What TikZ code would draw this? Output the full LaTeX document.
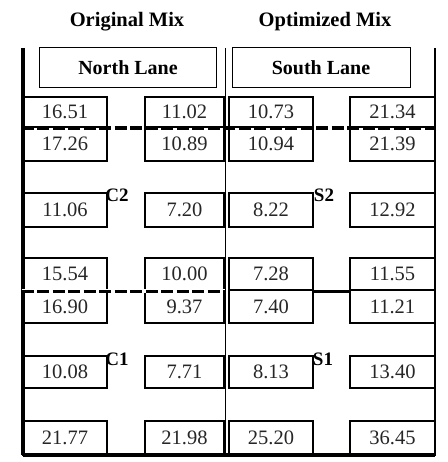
\documentclass[tikz,border=0pt]{standalone}
\usepackage{fontspec}
\setmainfont{Liberation Serif}
\begin{document}
\begin{tikzpicture}[x=1pt,y=-1pt,
  cell/.style={draw, line width=2.8pt, inner sep=0pt, text=black!85,
    font=\fontsize{20.5}{20}\selectfont},
  cA/.style={cell, minimum width=84pt}, cB/.style={cell, minimum width=79pt},
  cC/.style={cell, minimum width=84pt}, cD/.style={cell, minimum width=85pt},
  lane/.style={draw, line width=1pt, inner sep=0pt, minimum width=177pt, minimum height=40pt,
    font=\fontsize{20}{20}\selectfont\bfseries},
  title/.style={inner sep=0pt, font=\fontsize{20.5}{20}\selectfont\bfseries},
  tag/.style={inner sep=0pt, font=\fontsize{19}{19}\selectfont\bfseries},
  frame/.style={line width=3.2pt},
  dashline/.style={line width=3.8pt, dash pattern=on 12pt off 3.5pt}
]
\useasboundingbox (0,0) rectangle (447,462);

% titles and lanes
\node[title] (t1) at (127,22) {Original Mix};
\node[title] (t2) at (325,22) {Optimized Mix};
\node[lane] (north) at (128,68) {North Lane};
\node[lane, minimum width=178pt] (south) at (321,68) {South Lane};

% frame
\coordinate (lt) at (23,48); \coordinate (lb) at (23,455);
\coordinate (rt) at (435,48); \coordinate (rb) at (435,455);
\coordinate (mt) at (225.5,48); \coordinate (mb) at (225.5,455);
\draw[frame] (lt) -- (lb);
\draw[line width=2.6pt] (rt) -- (rb);
\draw[line width=1.3pt] (mt) -- (mb);

% rows
\foreach \n/\y/\h/\a/\b/\c/\d in {
  1/112/30/16.51/11.02/10.73/21.34,
  2/144/34/17.26/10.89/10.94/21.39,
  3/210/34/11.06/7.20/8.22/12.92,
  4/274/32/15.54/10.00/7.28/11.55,
  5/306.5/33/16.90/9.37/7.40/11.21,
  6/372/32/10.08/7.71/8.13/13.40,
  7/438/34/21.77/21.98/25.20/36.45}{
  \node[cA, minimum height=\h pt] (b\n1) at (65,\y) {\a};
  \node[cB, minimum height=\h pt] (b\n2) at (184.5,\y) {\b};
  \node[cC, minimum height=\h pt] (b\n3) at (271,\y) {\c};
  \node[cD, minimum height=\h pt] (b\n4) at (392.5,\y) {\d};
}

% bottom frame line
\draw[frame] (lb) -- (rb);

% dashed divider, first pair
\draw[dashline] (b11.south west) -- (b14.south east);

% second pair divider: dashed on the left, solid on the right
\draw[white, line width=4pt] (b41.south west) -- (b42.south east);
\draw[dashline] (b41.south west) -- (b42.south east);
\draw[line width=3pt] (b43.south east) -- (b44.south west);

% crossing labels
\node[tag] (c2) at (117,195) {C2};
\node[tag] (s2) at (324,195) {S2};
\node[tag] (c1) at (117,359) {C1};
\node[tag] (s1) at (323,359) {S1};
\end{tikzpicture}
\end{document}
